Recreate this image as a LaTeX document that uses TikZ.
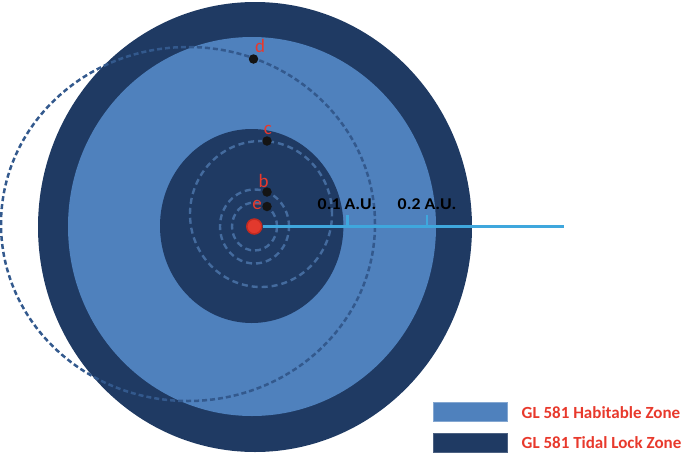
\documentclass[tikz,border=0pt]{standalone}
\usepackage{fontspec}
\setmainfont{Carlito}
\definecolor{navy}{HTML}{1F3A63}
\definecolor{hab}{HTML}{4F81BD}
\definecolor{orbitin}{HTML}{446B9E}
\definecolor{orbitout}{HTML}{33598D}
\definecolor{lblred}{HTML}{E8392C}
\definecolor{starred}{HTML}{E2392D}
\definecolor{stardark}{HTML}{C42A20}
\definecolor{scalecol}{HTML}{3FA7DD}
\tikzset{
  orbit/.style={draw=orbitin, line width=2.4pt, dash pattern=on 6pt off 4pt},
  bigorbit/.style={draw=orbitout, line width=2.5pt, dash pattern=on 5pt off 3pt},
  planet/.style={circle, fill=black!92, inner sep=0pt, minimum size=9.5pt},
  plabel/.style={text=lblred, font=\fontsize{19}{19}\selectfont, inner sep=0pt},
  aulabel/.style={font=\fontsize{16.5}{16.5}\selectfont\bfseries, inner sep=0pt, xscale=1.08},
  legtext/.style={text=lblred, font=\fontsize{17}{17}\selectfont\bfseries, inner sep=0pt, anchor=west},
  legbox/.style={line width=1pt, minimum width=74pt, minimum height=19pt, inner sep=0pt},
  scaleline/.style={draw=scalecol, line width=2.2pt}
}
\begin{document}
\begin{tikzpicture}[x=1pt,y=-1pt]
\useasboundingbox (0,0) rectangle (685,453);
% zones
\fill[navy] (255,227) ellipse [x radius=217pt, y radius=225pt];
\fill[hab] (252,226.5) ellipse [x radius=184pt, y radius=189.5pt];
\fill[navy] (251.7,226) ellipse [x radius=91.7pt, y radius=97pt];
% orbits
\draw[bigorbit] (188,224) ellipse [x radius=187pt, y radius=177pt];
\draw[orbit] (261,214) ellipse [x radius=71pt, y radius=73pt];
\draw[orbit] (254.5,226.5) ellipse [x radius=34.5pt, y radius=37pt];
\draw[orbit] (254.5,226.5) ellipse [x radius=22.5pt, y radius=24pt];
% scale line
\coordinate (lineend) at (564,226.5);
\coordinate (t1) at (347.5,226.5);
\coordinate (t1top) at (347.5,214.5);
\coordinate (t2) at (427,226.5);
\coordinate (t2top) at (427,214.5);
\node[circle, fill=starred, draw=stardark, line width=1.5pt, minimum size=15pt, inner sep=0pt] (star) at (254.3,226.5) {};
\draw[scaleline] (star.east) -- (lineend);
\draw[scaleline] (t1) -- (t1top);
\draw[scaleline] (t2) -- (t2top);
\node[aulabel] (au1) at (347,204.5) {0.1 A.U.};
\node[aulabel] (au2) at (427,204.5) {0.2 A.U.};
% planets
\node[planet] (pd) at (253.5,59) {};
\node[planet] (pc) at (267,141) {};
\node[planet] (pb) at (267,192) {};
\node[planet] (pe) at (267,206.5) {};
\node[plabel] (ld) at (260,46) {d};
\node[plabel] (lc) at (268,129.5) {c};
\node[plabel] (lb) at (263.5,181) {b};
\node[plabel] (le) at (257,204.5) {e};
% legend
\node[legbox, fill=hab, draw=hab!70!white] (boxh) at (470,412.3) {};
\node[legbox, fill=navy, draw=navy!80!white] (boxt) at (470,442.8) {};
\node[legtext] (th) at (521.5,412.5) {GL 581 Habitable Zone};
\node[legtext] (tt) at (521.5,442.5) {GL 581 Tidal Lock Zone};
\end{tikzpicture}
\end{document}
